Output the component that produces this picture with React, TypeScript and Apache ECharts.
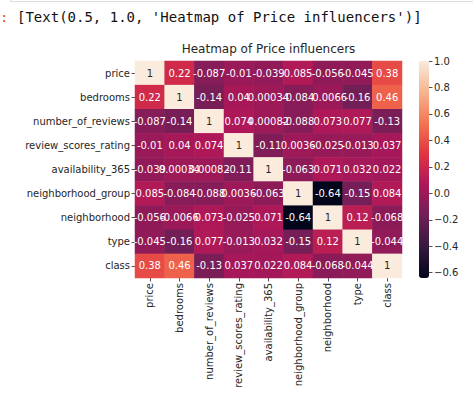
import React, { useEffect, useRef } from "react";
import * as echarts from "echarts";

const labels = [
  "price",
  "bedrooms",
  "number_of_reviews",
  "review_scores_rating",
  "availability_365",
  "neighborhood_group",
  "neighborhood",
  "type",
  "class",
];

const rowPrice = [1, 0.22, -0.087, -0.01, -0.039, 0.085, -0.056, -0.045, 0.38];
const rowBedrooms = [0.22, 1, -0.14, 0.04, 0.00034, -0.084, -0.0066, -0.16, 0.46];
const rowReviews = [-0.087, -0.14, 1, 0.074, 0.00082, -0.088, 0.073, 0.077, -0.13];
const rowRating = [-0.01, 0.04, 0.074, 1, -0.11, 0.0036, -0.025, -0.013, 0.037];
const rowAvail = [-0.039, 0.00034, 0.00082, -0.11, 1, -0.063, 0.071, 0.032, 0.022];
const rowGroup = [0.085, -0.084, -0.088, 0.0036, -0.063, 1, -0.64, -0.15, 0.084];
const rowHood = [-0.056, -0.0066, 0.073, -0.025, 0.071, -0.64, 1, 0.12, -0.068];
const rowType = [-0.045, -0.16, 0.077, -0.013, 0.032, -0.15, 0.12, 1, -0.044];
const rowClass = [0.38, 0.46, -0.13, 0.037, 0.022, 0.084, -0.068, -0.044, 1];

const matrix = [rowPrice, rowBedrooms, rowReviews, rowRating, rowAvail, rowGroup, rowHood, rowType, rowClass];

const colorbarTicks = [-0.6, -0.4, -0.2, 0.0, 0.2, 0.4, 0.6, 0.8, 1.0];
const vMin = -0.64;
const vMax = 1;

const rocket = ["#03051a", "#35193e", "#701f57", "#ad1759", "#e13342", "#f37651", "#f6b48f", "#faebdd"];

const FONT = "DejaVu Sans";
const TXT = "#262626";

export default function App() {
  const ref = useRef<HTMLDivElement>(null);
  useEffect(() => {
    document.body.style.margin = "0";
    const chart = echarts.init(ref.current!, null, { renderer: "svg" });
    const data: any[] = [];
    matrix.forEach((row, y) => row.forEach((v, x) => data.push([x, y, v])));
    const fmt = (v: number) => String(parseFloat(v.toPrecision(2)));
    chart.setOption({
      animation: false,
      backgroundColor: "#ffffff",
      title: {
        text: "Heatmap of Price influencers",
        left: 268.5,
        top: 43,
        textAlign: "center",
        padding: 0,
        textStyle: { fontFamily: FONT, fontSize: 12, fontWeight: "normal", color: TXT },
      },
      graphic: [
        { type: "line", shape: { x1: 10, y1: 1.5, x2: 473, y2: 1.5 }, style: { stroke: "#dddddd", lineWidth: 1 } },
        { type: "line", shape: { x1: 10.5, y1: 0, x2: 10.5, y2: 2 }, style: { stroke: "#dddddd", lineWidth: 1 } },
        {
          type: "text",
          x: 0,
          y: 17,
          style: { text: ":", fontFamily: "DejaVu Sans Mono", fontSize: 14, fill: "#e8590c", verticalAlign: "middle" },
        },
        {
          type: "text",
          x: 17,
          y: 17,
          style: {
            text: "[Text(0.5, 1.0, 'Heatmap of Price influencers')]",
            fontFamily: "DejaVu Sans Mono",
            fontSize: 14,
            fill: "#111111",
            verticalAlign: "middle",
          },
        },
      ],
      grid: [
        { left: 135, top: 61, width: 267, height: 217 },
        { left: 419, top: 61, width: 10, height: 217 },
      ],
      xAxis: [
        {
          type: "category",
          data: labels,
          gridIndex: 0,
          position: "bottom",
          axisLine: { show: false },
          axisTick: { show: true, length: 3.5, alignWithLabel: true, lineStyle: { color: TXT, width: 0.8 } },
          axisLabel: { rotate: 90, margin: 5, fontFamily: FONT, fontSize: 10, color: TXT, interval: 0 },
          splitLine: { show: false },
        },
        { type: "category", data: [""], gridIndex: 1, show: false },
      ],
      yAxis: [
        {
          type: "category",
          data: labels,
          gridIndex: 0,
          inverse: true,
          axisLine: { show: false },
          axisTick: { show: true, length: 3.5, alignWithLabel: true, lineStyle: { color: TXT, width: 0.8 } },
          axisLabel: { margin: 5, fontFamily: FONT, fontSize: 10, color: TXT, interval: 0 },
          splitLine: { show: false },
        },
        {
          type: "value",
          gridIndex: 1,
          position: "right",
          min: vMin,
          max: vMax,
          axisLine: { show: false },
          splitLine: { show: false },
          axisTick: { show: true, length: 3.5, customValues: colorbarTicks, lineStyle: { color: TXT, width: 0.8 } },
          axisLabel: {
            customValues: colorbarTicks,
            margin: 5,
            fontFamily: FONT,
            fontSize: 10,
            color: TXT,
            formatter: (v: number) => v.toFixed(1).replace("-", "\u2212"),
          },
        },
      ],
      visualMap: {
        type: "continuous",
        min: vMin,
        max: vMax,
        dimension: 2,
        seriesIndex: 0,
        orient: "vertical",
        left: 419,
        top: 61,
        padding: 0,
        itemWidth: 10,
        itemHeight: 217,
        calculable: false,
        hoverLink: false,
        text: null,
        showLabel: false,
        inRange: { color: rocket },
      },
      series: [
        {
          type: "heatmap",
          xAxisIndex: 0,
          yAxisIndex: 0,
          data,
          label: {
            show: true,
            fontFamily: FONT,
            fontSize: 10,
            formatter: (p: any) => fmt(p.value[2]),
            color: "#ffffff",
          },
          itemStyle: { borderWidth: 0 },
          emphasis: { disabled: true },
        },
      ],
    });
    // dark text on light cells
    chart.setOption({
      series: [
        {
          data: data.map((d) =>
            d[2] > 0.8 ? { value: d, label: { color: TXT } } : { value: d }
          ),
        },
      ],
    });
    return () => chart.dispose();
  }, []);
  return <div ref={ref} style={{ width: 473, height: 400 }} />;
}
